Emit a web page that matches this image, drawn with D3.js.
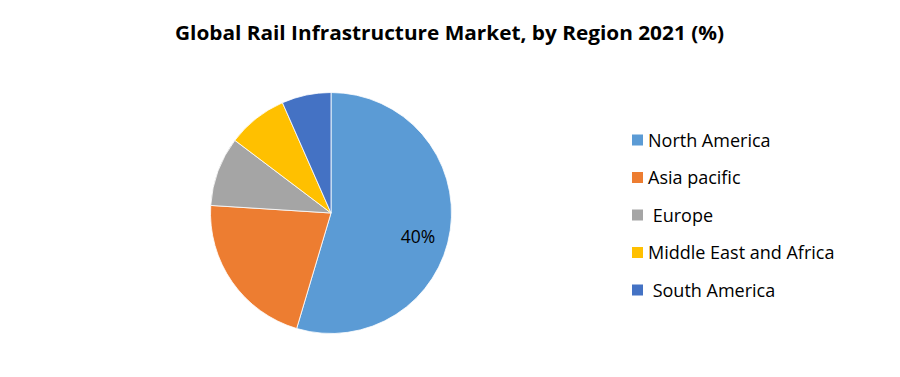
<!DOCTYPE html>
<html><head><meta charset="utf-8">
<script src="https://cdn.jsdelivr.net/npm/d3@7"></script>
<style>body{margin:0;background:#fff;} svg{display:block;}</style>
</head><body>
<svg id="chart" width="900" height="377"></svg>
<script>
const categories = ["North America", "Asia pacific", " Europe", "Middle East and Africa", " South America"];
const values = [54.6, 21.4, 9.3, 8.1, 6.6];
const colors = ["#5B9BD5", "#ED7D31", "#A5A5A5", "#FFC000", "#4472C4"];
const sliceLabels = ["40%", "", "", "", ""];
const title = "Global Rail Infrastructure Market, by Region 2021 (%)";

const svg = d3.select("#chart");
const font = "'Open Sans', 'Noto Sans', sans-serif";
const cx = 331, cy = 213, r = 120.5;

svg.append("text").attr("x", 449.5).attr("y", 40).attr("text-anchor", "middle")
  .attr("font-family", font).attr("font-weight", "bold").attr("font-size", 19)
  .attr("textLength", 549).attr("lengthAdjust", "spacingAndGlyphs")
  .attr("fill", "#000").text(title);

const data = categories.map((c, i) => ({cat: c, value: values[i], color: colors[i], label: sliceLabels[i]}));
const pie = d3.pie().value(d => d.value).sort(null);
const arc = d3.arc().innerRadius(0).outerRadius(r);
const labelArc = d3.arc().innerRadius(r * 0.78).outerRadius(r * 0.78);
const arcs = pie(data);

const g = svg.append("g").attr("transform", `translate(${cx},${cy})`);
g.selectAll("path").data(arcs).join("path")
  .attr("d", arc).attr("fill", d => d.data.color)
  .attr("stroke", "#fff").attr("stroke-width", 0.8);

g.selectAll("text.lbl").data(arcs.filter(d => d.data.label)).join("text")
  .attr("class", "lbl")
  .attr("transform", d => { const [x, y] = labelArc.centroid(d); return `translate(${x - 6},${y + 16.5})`; })
  .attr("text-anchor", "middle")
  .attr("font-family", font).attr("font-size", 17.5).attr("fill", "#000")
  .text(d => d.data.label);

const legend = svg.append("g");
const rowY = d3.scalePoint().domain(categories).range([140, 290]);
const items = legend.selectAll("g").data(data).join("g")
  .attr("transform", d => `translate(632,${rowY(d.cat)})`);
items.append("rect").attr("x", 0).attr("y", -5.5).attr("width", 11).attr("height", 11)
  .attr("fill", d => d.color);
items.append("text").attr("x", 16).attr("y", 6.5)
  .attr("font-family", font).attr("font-size", 18).attr("fill", "#000")
  .attr("xml:space", "preserve").style("white-space", "pre")
  .text(d => d.cat);
</script>
</body></html>
